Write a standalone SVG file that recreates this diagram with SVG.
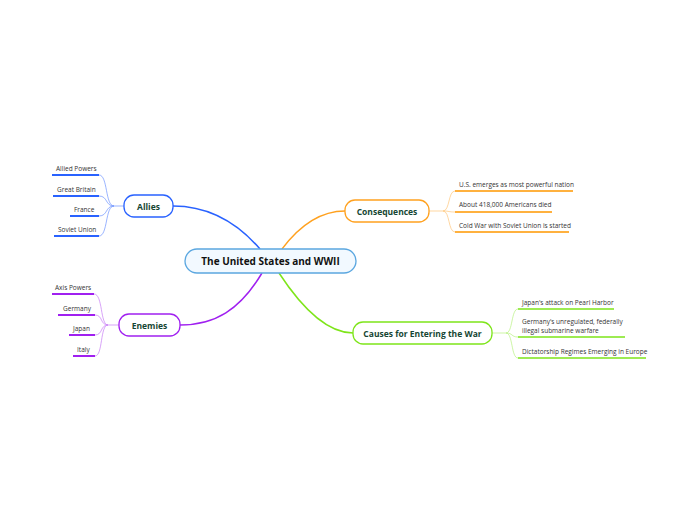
<svg xmlns="http://www.w3.org/2000/svg" width="697" height="520" viewBox="0 0 697 520">
<style>
text{font-family:"Open Sans","Noto Sans",sans-serif}
.t{font-weight:bold;fill:#164633;text-anchor:middle}
.l{font-size:6.5px;fill:#333}
.c{fill:none}
</style>
<rect width="697" height="520" fill="#fff"/>
<g id="connectors" class="c">
<path d="M260,249 C235,220 205,206 173,206" stroke="#2962ff" stroke-width="1.5"/>
<path d="M282,249 C300,225 320,211 345,211" stroke="#ffa11f" stroke-width="1.3"/>
<path d="M262,273 C240,310 215,325 180,325" stroke="#a020f0" stroke-width="1.5"/>
<path d="M279,273 C300,305 325,333 353,333" stroke="#7ee51a" stroke-width="1.5"/>
<g stroke="#6f93ff" stroke-width="0.7">
<path d="M124,206 H114 C105,206 108,175 99,175"/><path d="M114,206 C105,206 108,196 99,196"/><path d="M114,206 C105,206 108,216 99,216"/><path d="M114,206 C105,206 108,236 99,236"/>
</g>
<g stroke="#2962ff" stroke-width="1.8"><path d="M52,175H99M53,196H99M70,216H99M54,236H99"/></g>
<g stroke="#c77df5" stroke-width="0.7">
<path d="M119,325 H108 C100,325 103,294 94,294"/><path d="M108,325 C100,325 103,315 95,315"/><path d="M108,325 C100,325 103,335 95,335"/><path d="M108,325 C100,325 103,356 95,356"/>
</g>
<g stroke="#a020f0" stroke-width="1.8"><path d="M52,294H94M58,315H95M69,335H95M73,356H95"/></g>
<g stroke="#ffc57a" stroke-width="0.7">
<path d="M429,211 H443 C450,211 448,191 455,191"/><path d="M443,211 C450,211 448,212 455,212"/><path d="M443,211 C450,211 448,232 455,232"/>
</g>
<g stroke="#ff9800" stroke-width="1.6"><path d="M455,191H573M455,212H552M455,232H569"/></g>
<g stroke="#b7f07f" stroke-width="0.7">
<path d="M492,333 H506 C513,333 511,309 518,309"/><path d="M506,333 C513,333 511,337 518,337"/><path d="M506,333 C513,333 511,358 518,358"/>
</g>
<g stroke="#7ee51a" stroke-width="1.6"><path d="M518,309H614M518,337H625M518,358H646"/></g>
</g>
<g id="central"><rect x="185" y="249" width="171" height="24" rx="12" fill="#f2f9ff" stroke="#5ba7e0" stroke-width="1.3"/><text class="t" x="270.5" y="265" font-size="10" fill="#111" style="fill:#111">The United States and WWII</text></g>
<g id="allies"><rect x="124" y="195" width="49" height="22" rx="10" fill="#fff" stroke="#2962ff" stroke-width="1.3"/><text class="t" x="148.5" y="210" font-size="8.5">Allies</text></g>
<g id="enemies"><rect x="119" y="314" width="61" height="22" rx="10" fill="#fff" stroke="#a020f0" stroke-width="1.3"/><text class="t" x="149.5" y="329" font-size="8.5">Enemies</text></g>
<g id="consequences"><rect x="345" y="200" width="84" height="22" rx="10" fill="#fff" stroke="#ffa11f" stroke-width="1.3"/><text class="t" x="387" y="215" font-size="8.5">Consequences</text></g>
<g id="causes"><rect x="353" y="322" width="139" height="22" rx="10" fill="#fff" stroke="#7ee51a" stroke-width="1.3"/><text class="t" x="422.5" y="337" font-size="8.5">Causes for Entering the War</text></g>
<g id="leaves-allies" class="l">
<text class="l" x="56" y="171">Allied Powers</text><text class="l" x="57" y="192">Great Britain</text><text class="l" x="74" y="212">France</text><text class="l" x="58" y="232">Soviet Union</text>
</g>
<g id="leaves-enemies">
<text class="l" x="55" y="290">Axis Powers</text><text class="l" x="63" y="311">Germany</text><text class="l" x="73" y="331">Japan</text><text class="l" x="77" y="352">Italy</text>
</g>
<g id="leaves-consequences">
<text class="l" x="459" y="187">U.S. emerges as most powerful nation</text><text class="l" x="459" y="207">About 418,000 Americans died</text><text class="l" x="459" y="228">Cold War with Soviet Union is started</text>
</g>
<g id="leaves-causes">
<text class="l" x="522" y="305">Japan's attack on Pearl Harbor</text><text class="l" x="522" y="324">Germany's unregulated, federally</text><text class="l" x="522" y="333">illegal submarine warfare</text><text class="l" x="522" y="354">Dictatorship Regimes Emerging in Europe</text>
</g>
</svg>
